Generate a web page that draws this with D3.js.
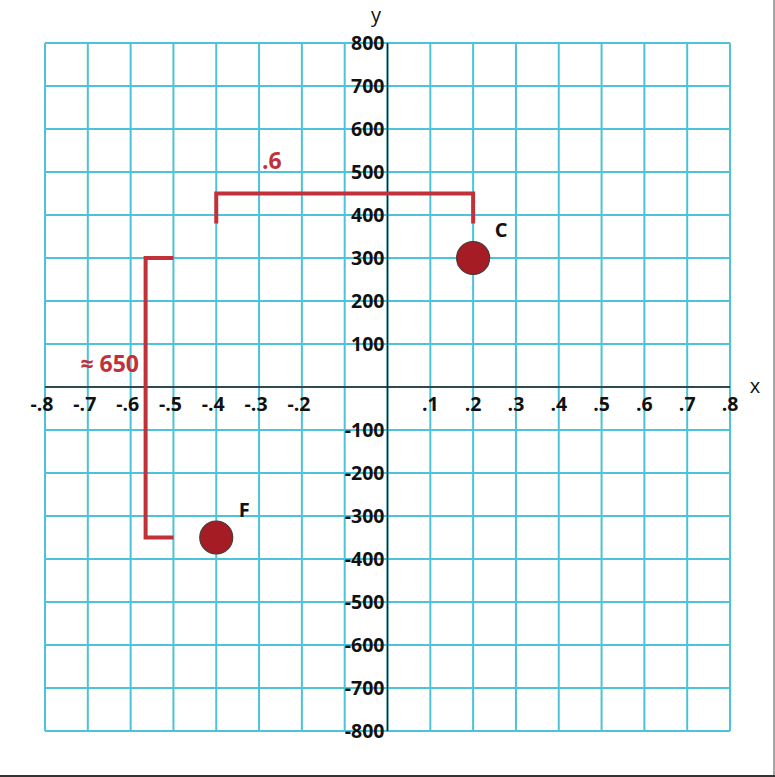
<!DOCTYPE html>
<html><head><meta charset="utf-8">
<script src="https://cdn.jsdelivr.net/npm/d3@7"></script>
<style>body{margin:0;background:#fff}svg{display:block}</style>
</head><body>
<script>
const xTicks = [-0.8,-0.7,-0.6,-0.5,-0.4,-0.3,-0.2,0.1,0.2,0.3,0.4,0.5,0.6,0.7,0.8];
const xTickLabels = ["-.8","-.7","-.6","-.5","-.4","-.3","-.2",".1",".2",".3",".4",".5",".6",".7",".8"];
const yTicks = [800,700,600,500,400,300,200,100,-100,-200,-300,-400,-500,-600,-700,-800];
const pointNames = ["C","F"];
const pointX = [0.2,-0.4];
const pointY = [300,-350];
// bracket: horizontal distance between C and F (x from -0.4 to 0.2, at y 450, legs to 380)
const hBracketX = [-0.4, 0.2];
const hBracketY = 450, hBracketLeg = 380;
const hBracketLabel = ".6";
// vertical bracket: y from 300 to -350 at x -0.565, arms to -0.5
const vBracketY = [300, -350];
const vBracketX = -0.565, vBracketArm = -0.5;
const vBracketLabel = "≈ 650";

const W = 775, H = 777;
const svg = d3.select("body").append("svg").attr("width", W).attr("height", H);
const x = d3.scaleLinear().domain([-0.8,0.8]).range([45,730]);
const y = d3.scaleLinear().domain([-800,800]).range([731,43]);
const grid = "#4cc3d8", red = "#c0313a", font = "'Open Sans', 'Noto Sans', sans-serif";

const gridX = d3.range(-8,9).map(d=>d/10);
const gridY = d3.range(-8,9).map(d=>d*100);
svg.append("g").selectAll("line").data(gridX).join("line")
  .attr("x1",d=>x(d)).attr("x2",d=>x(d)).attr("y1",y(800)).attr("y2",y(-800))
  .attr("stroke",grid).attr("stroke-width",2);
svg.append("g").selectAll("line").data(gridY).join("line")
  .attr("y1",d=>y(d)).attr("y2",d=>y(d)).attr("x1",x(-0.8)).attr("x2",x(0.8))
  .attr("stroke",grid).attr("stroke-width",2);

// axes
svg.append("line").attr("x1",x(-0.8)).attr("x2",x(0.8)).attr("y1",y(0)).attr("y2",y(0)).attr("stroke","#222").attr("stroke-width",1.5);
svg.append("line").attr("x1",x(0)).attr("x2",x(0)).attr("y1",y(800)).attr("y2",y(-800)).attr("stroke","#222").attr("stroke-width",1.5);

// tick labels
svg.append("g").selectAll("text").data(xTicks).join("text")
  .attr("x",(d,i)=>x(d) + (d<0 ? -3 : 0)).attr("y",y(0)+24)
  .attr("text-anchor","middle").attr("font-family",font).attr("font-weight",700).attr("font-size",19.5).attr("fill","#111")
  .text((d,i)=>xTickLabels[i]);
svg.append("g").selectAll("text").data(yTicks).join("text")
  .attr("x",x(0)-3).attr("y",d=>y(d)+7)
  .attr("text-anchor","end").attr("font-family",font).attr("font-weight",700).attr("font-size",19.5).attr("fill","#111")
  .text(d=>d);
svg.append("text").attr("x",376).attr("y",22).attr("text-anchor","middle").attr("font-family",font).attr("font-size",20).attr("fill","#111").text("y");
svg.append("text").attr("x",755).attr("y",393).attr("text-anchor","middle").attr("font-family",font).attr("font-size",20).attr("fill","#111").text("x");

// brackets
const line = d3.line().x(d=>x(d[0])).y(d=>y(d[1]));
svg.append("path").attr("d",line([[hBracketX[0],hBracketLeg],[hBracketX[0],hBracketY],[hBracketX[1],hBracketY],[hBracketX[1],hBracketLeg]]))
  .attr("fill","none").attr("stroke",red).attr("stroke-width",4);
svg.append("text").attr("x",x(-0.27)).attr("y",y(hBracketY)-25).attr("text-anchor","middle").attr("font-family",font).attr("font-weight",700).attr("font-size",23).attr("fill",red).text(hBracketLabel);
svg.append("path").attr("d",line([[vBracketArm,vBracketY[0]],[vBracketX,vBracketY[0]],[vBracketX,vBracketY[1]],[vBracketArm,vBracketY[1]]]))
  .attr("fill","none").attr("stroke",red).attr("stroke-width",4);
svg.append("text").attr("x",139).attr("y",y(0)-15).attr("text-anchor","end").attr("font-family",font).attr("font-weight",700).attr("font-size",23).attr("fill",red).text(vBracketLabel);

// points
svg.append("g").selectAll("circle").data(pointNames).join("circle")
  .attr("cx",(d,i)=>x(pointX[i])).attr("cy",(d,i)=>y(pointY[i])).attr("r",16.5)
  .attr("fill","#a51c24").attr("stroke","#4a3a3a").attr("stroke-width",1.2);
svg.append("g").selectAll("text").data(pointNames).join("text")
  .attr("x",(d,i)=>x(pointX[i])+28).attr("y",(d,i)=>y(pointY[i])-21)
  .attr("text-anchor","middle").attr("font-family",font).attr("font-weight",700).attr("font-size",20).attr("fill","#111")
  .text(d=>d);

// frame edges
svg.append("line").attr("x1",774).attr("x2",774).attr("y1",0).attr("y2",H).attr("stroke","#888").attr("stroke-width",1.5);
svg.append("line").attr("x1",0).attr("x2",W).attr("y1",776).attr("y2",776).attr("stroke","#333").attr("stroke-width",2);
</script>
</body></html>
